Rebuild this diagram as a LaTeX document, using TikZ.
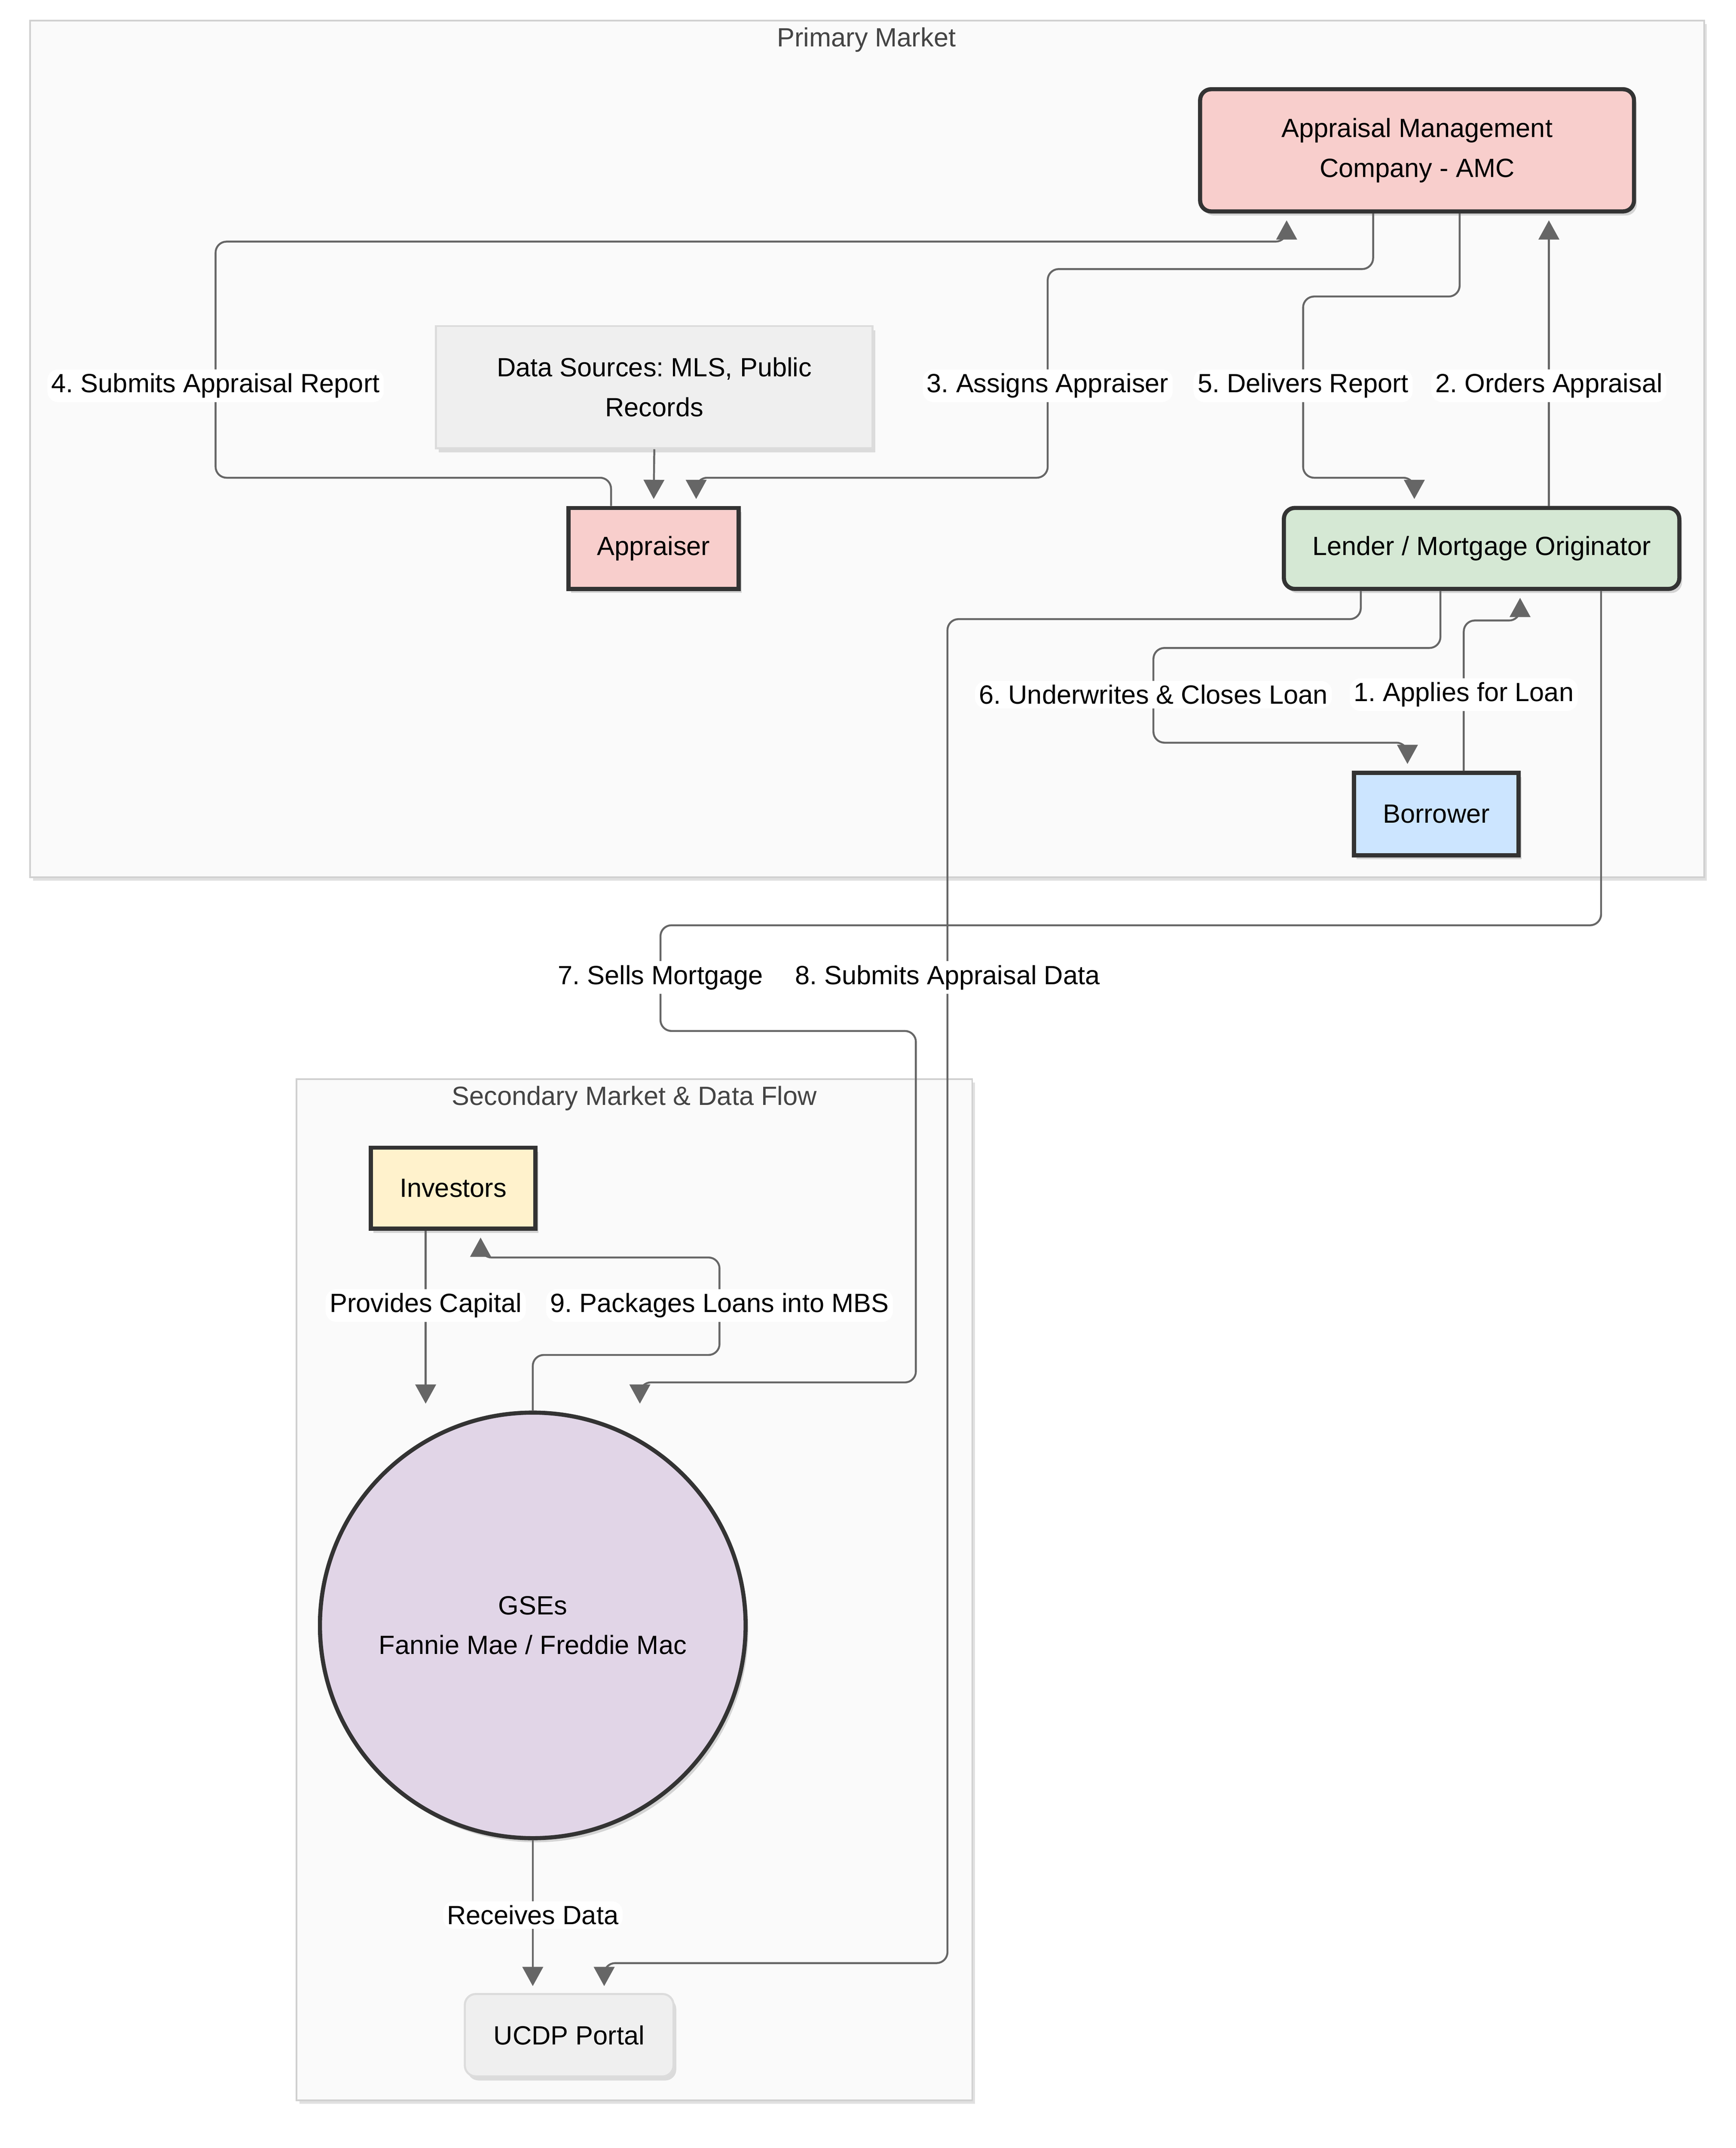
\documentclass[tikz,border=0pt]{standalone}
\usepackage{fontspec}
\setmainfont{Liberation Sans}
\usetikzlibrary{arrows.meta,shadows}
\definecolor{clfill}{HTML}{FAFAFA}
\definecolor{cldraw}{HTML}{D0D0D0}
\definecolor{cltext}{HTML}{444444}
\definecolor{nodedraw}{HTML}{333333}
\definecolor{edgecol}{HTML}{666666}
\definecolor{redfill}{HTML}{F8CECC}
\definecolor{greenfill}{HTML}{D5E8D4}
\definecolor{bluefill}{HTML}{CCE5FF}
\definecolor{yellowfill}{HTML}{FFF2CC}
\definecolor{purplefill}{HTML}{E1D5E7}
\definecolor{grayfill}{HTML}{EFEFEF}
\definecolor{graydraw}{HTML}{DCDCDC}
\frenchspacing
\begin{document}
\begin{tikzpicture}[x=1pt,y=-1pt,
  txt/.style={font=\fontsize{19.2}{29}\selectfont\frenchspacing, align=center, text=black},
  cluster/.style={draw=cldraw, line width=1.2pt, fill=clfill,
    drop shadow={shadow xshift=2pt, shadow yshift=-2.5pt, opacity=0.12, fill=black}},
  cltitle/.style={font=\fontsize{19.2}{23}\selectfont, text=cltext},
  box/.style={txt, draw=nodedraw, line width=3pt, inner sep=0pt,
    drop shadow={shadow xshift=2pt, shadow yshift=-3pt, opacity=0.15, fill=black}},
  softbox/.style={txt, draw=graydraw, line width=1.5pt, fill=grayfill, inner sep=0pt,
    drop shadow={shadow xshift=2pt, shadow yshift=-3pt, opacity=0.12, fill=black}},
  edge/.style={draw=edgecol, line width=1.4pt, rounded corners=8pt,
    -{Triangle[length=14pt, width=15pt]}, shorten >=5pt},
  lbl/.style={txt, fill=white, inner sep=3pt}
]
\useasboundingbox (0,0) rectangle (1264,1564.7);

% clusters
\path[cluster] (22,15) rectangle (1241,639);
\node[cltitle] (pmtitle) at (631,29) {Primary Market};
\path[cluster] (216,786) rectangle (708,1530);
\node[cltitle] (smtitle) at (462,800) {Secondary Market \& Data Flow};

% nodes
\node[box, fill=redfill, rounded corners=8pt, minimum width=316pt, minimum height=89pt] (amc) at (1032,109.5) {Appraisal Management\\Company - AMC};
\node[softbox, minimum width=318pt, minimum height=89pt] (ds) at (476.5,282) {Data Sources: MLS, Public\\Records};
\node[box, fill=redfill, minimum width=124pt, minimum height=59pt] (app) at (476,399.5) {Appraiser};
\node[box, fill=greenfill, rounded corners=8pt, minimum width=288pt, minimum height=59pt] (lend) at (1079,399.5) {Lender / Mortgage Originator};
\node[box, fill=bluefill, minimum width=120pt, minimum height=60pt] (bor) at (1046,593) {Borrower};
\node[box, fill=yellowfill, minimum width=120pt, minimum height=59pt] (inv) at (330,865.5) {Investors};
\node[box, fill=purplefill, circle, minimum size=310pt] (gse) at (388,1184) {GSEs\\Fannie Mae / Freddie Mac};
\node[softbox, rounded corners=8pt, minimum width=152pt, minimum height=60pt] (ucdp) at (414.5,1482.5) {UCDP Portal};

% edges
\draw[edge] (1066,0 |- bor.north) -- (1066,506) node[lbl] {1. Applies for Loan} -- (1066,452) -- (1107,452) -- (1107,0 |- lend.south);
\draw[edge] (1128,0 |- lend.north) -- (1128,281) node[lbl] {2. Orders Appraisal} -- (1128,0 |- amc.south);
\draw[edge] (1000,0 |- amc.south) -- (1000,196) -- (763,196) -- (763,281) node[lbl] {3. Assigns Appraiser} -- (763,348) -- (507,348) -- (507,0 |- app.north);
\draw[edge] (445,0 |- app.north) -- (445,348) -- (157,348) -- (157,281) node[lbl] {4. Submits Appraisal Report} -- (157,176) -- (937,176) -- (937,0 |- amc.south);
\draw[edge] (1063,0 |- amc.south) -- (1063,216) -- (949,216) -- (949,281) node[lbl] {5. Delivers Report} -- (949,348) -- (1030,348) -- (1030,0 |- lend.north);
\draw[edge] (1049,0 |- lend.south) -- (1049,472) -- (840,472) -- (840,506) node[lbl] {6. Underwrites \& Closes Loan} -- (840,541) -- (1025,541) -- (1025,0 |- bor.north);
\draw[edge] (ds.south) -- (app.north);
\draw[edge] (1166,0 |- lend.south) -- (1166,674) -- (481,674) -- (481,712) node[lbl] {7. Sells Mortgage} -- (481,751) -- (667,751) -- (667,1007) -- (466,1007) -- (466,0 |- gse.north);
\draw[edge] (991,0 |- lend.south) -- (991,451) -- (690,451) -- (690,712) node[lbl] {8. Submits Appraisal Data} -- (690,1430) -- (440,1430) -- (440,0 |- ucdp.north);
\draw[edge] (gse.north) -- (388,987) -- (524,987) -- (524,951) node[lbl] {9. Packages Loans into MBS} -- (524,916) -- (350,916) -- (350,0 |- inv.south);
\draw[edge] (310,0 |- inv.south) -- (310,951) node[lbl] {Provides Capital} -- (310,0 |- gse.north);
\draw[edge] (gse.south) -- (388,1395) node[lbl] {Receives Data} -- (388,0 |- ucdp.north);
\end{tikzpicture}
\end{document}
